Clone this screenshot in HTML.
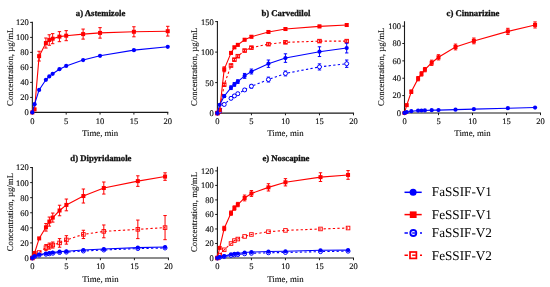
<!DOCTYPE html>
<html><head><meta charset="utf-8"><style>
html,body{margin:0;padding:0;background:#fff;}
svg{display:block;will-change:transform;}
text{text-rendering:geometricPrecision;}
.t{font-family:"Liberation Serif", serif;font-size:8.5px;fill:#111;stroke:#111;stroke-width:0.15px;}
.at{font-family:"Liberation Serif", serif;font-size:8.8px;fill:#111;stroke:#111;stroke-width:0.12px;}
.tb{font-family:"Liberation Serif", serif;font-size:8.7px;font-weight:bold;fill:#111;stroke:#111;stroke-width:0.3px;}
.lg{font-family:"Liberation Serif", serif;font-size:13.2px;fill:#000;}
</style></head><body>
<svg width="550" height="287" viewBox="0 0 550 287">
<rect width="550" height="287" fill="#fff"/>
<path d="M32.35 22.4V112.4H167.75" fill="none" stroke="#1a1a1a" stroke-width="1.1" stroke-linecap="square"/>
<path d="M30.15 112.4H32.35" stroke="#1a1a1a" stroke-width="1"/>
<text x="28.75" y="115.3" text-anchor="end" class="t">0</text>
<path d="M30.15 97.4H32.35" stroke="#1a1a1a" stroke-width="1"/>
<text x="28.75" y="100.3" text-anchor="end" class="t">20</text>
<path d="M30.15 82.4H32.35" stroke="#1a1a1a" stroke-width="1"/>
<text x="28.75" y="85.3" text-anchor="end" class="t">40</text>
<path d="M30.15 67.4H32.35" stroke="#1a1a1a" stroke-width="1"/>
<text x="28.75" y="70.3" text-anchor="end" class="t">60</text>
<path d="M30.15 52.4H32.35" stroke="#1a1a1a" stroke-width="1"/>
<text x="28.75" y="55.3" text-anchor="end" class="t">80</text>
<path d="M30.15 37.4H32.35" stroke="#1a1a1a" stroke-width="1"/>
<text x="28.75" y="40.3" text-anchor="end" class="t">100</text>
<path d="M30.15 22.4H32.35" stroke="#1a1a1a" stroke-width="1"/>
<text x="28.75" y="25.3" text-anchor="end" class="t">120</text>
<path d="M32.35 112.4V114.6" stroke="#1a1a1a" stroke-width="1"/>
<text x="32.35" y="124.2" text-anchor="middle" class="t">0</text>
<path d="M66.2 112.4V114.6" stroke="#1a1a1a" stroke-width="1"/>
<text x="66.2" y="124.2" text-anchor="middle" class="t">5</text>
<path d="M100.05 112.4V114.6" stroke="#1a1a1a" stroke-width="1"/>
<text x="100.05" y="124.2" text-anchor="middle" class="t">10</text>
<path d="M133.9 112.4V114.6" stroke="#1a1a1a" stroke-width="1"/>
<text x="133.9" y="124.2" text-anchor="middle" class="t">15</text>
<path d="M167.75 112.4V114.6" stroke="#1a1a1a" stroke-width="1"/>
<text x="167.75" y="124.2" text-anchor="middle" class="t">20</text>
<text x="100.05" y="136.3" text-anchor="middle" class="at">Time, min</text>
<text transform="translate(12.9 66.8) rotate(-90)" text-anchor="middle" class="at">Concentration, µg/mL</text>
<text x="100.55" y="15.7" text-anchor="middle" class="tb">a) Astemizole</text>
<path d="M32.35 112.4 L34.58 109.4 L39.12 56.15 L45.89 43.03 L49.27 40.03 L52.66 38.68 L59.43 36.65 L66.2 35.68 L83.12 34.1 L100.05 32.9 L133.9 31.78 L167.75 31.18" fill="none" stroke="#ff0000" stroke-width="1.1"/>
<rect x="30.35" y="110.4" width="4" height="4" fill="#ff0000"/>
<rect x="32.58" y="107.4" width="4" height="4" fill="#ff0000"/>
<path d="M39.12 51.28V61.03M37.42 51.28H40.82M37.42 61.03H40.82" stroke="#ff0000" stroke-width="1"/>
<rect x="37.12" y="54.15" width="4" height="4" fill="#ff0000"/>
<path d="M45.89 38V48.05M44.19 38H47.59M44.19 48.05H47.59" stroke="#ff0000" stroke-width="1"/>
<rect x="43.89" y="41.03" width="4" height="4" fill="#ff0000"/>
<path d="M49.27 34.78V45.28M47.57 34.78H50.98M47.57 45.28H50.98" stroke="#ff0000" stroke-width="1"/>
<rect x="47.27" y="38.03" width="4" height="4" fill="#ff0000"/>
<path d="M52.66 33.65V43.7M50.96 33.65H54.36M50.96 43.7H54.36" stroke="#ff0000" stroke-width="1"/>
<rect x="50.66" y="36.68" width="4" height="4" fill="#ff0000"/>
<path d="M59.43 31.63V41.68M57.73 31.63H61.13M57.73 41.68H61.13" stroke="#ff0000" stroke-width="1"/>
<rect x="57.43" y="34.65" width="4" height="4" fill="#ff0000"/>
<path d="M66.2 30.65V40.7M64.5 30.65H67.9M64.5 40.7H67.9" stroke="#ff0000" stroke-width="1"/>
<rect x="64.2" y="33.68" width="4" height="4" fill="#ff0000"/>
<path d="M83.12 29.07V39.12M81.42 29.07H84.83M81.42 39.12H84.83" stroke="#ff0000" stroke-width="1"/>
<rect x="81.12" y="32.1" width="4" height="4" fill="#ff0000"/>
<path d="M100.05 27.65V38.15M98.35 27.65H101.75M98.35 38.15H101.75" stroke="#ff0000" stroke-width="1"/>
<rect x="98.05" y="30.9" width="4" height="4" fill="#ff0000"/>
<path d="M133.9 26.75V36.8M132.2 26.75H135.6M132.2 36.8H135.6" stroke="#ff0000" stroke-width="1"/>
<rect x="131.9" y="29.78" width="4" height="4" fill="#ff0000"/>
<path d="M167.75 26.3V36.05M166.05 26.3H169.45M166.05 36.05H169.45" stroke="#ff0000" stroke-width="1"/>
<rect x="165.75" y="29.18" width="4" height="4" fill="#ff0000"/>
<path d="M32.35 112.4 L34.58 104.15 L39.12 89.9 L45.89 79.78 L49.27 76.4 L52.66 73.78 L59.43 69.2 L66.2 65.9 L83.12 60.05 L100.05 55.78 L133.9 50.15 L167.75 46.78" fill="none" stroke="#0000ff" stroke-width="1.1"/>
<circle cx="32.35" cy="112.4" r="2.1" fill="#0000ff"/>
<circle cx="34.58" cy="104.15" r="2.1" fill="#0000ff"/>
<circle cx="39.12" cy="89.9" r="2.1" fill="#0000ff"/>
<circle cx="45.89" cy="79.78" r="2.1" fill="#0000ff"/>
<circle cx="49.27" cy="76.4" r="2.1" fill="#0000ff"/>
<circle cx="52.66" cy="73.78" r="2.1" fill="#0000ff"/>
<circle cx="59.43" cy="69.2" r="2.1" fill="#0000ff"/>
<circle cx="66.2" cy="65.9" r="2.1" fill="#0000ff"/>
<circle cx="83.12" cy="60.05" r="2.1" fill="#0000ff"/>
<circle cx="100.05" cy="55.78" r="2.1" fill="#0000ff"/>
<circle cx="133.9" cy="50.15" r="2.1" fill="#0000ff"/>
<circle cx="167.75" cy="46.78" r="2.1" fill="#0000ff"/>
<path d="M217.4 21.6V113.1H353.5" fill="none" stroke="#1a1a1a" stroke-width="1.1" stroke-linecap="square"/>
<path d="M215.2 113.1H217.4" stroke="#1a1a1a" stroke-width="1"/>
<text x="213.8" y="116" text-anchor="end" class="t">0</text>
<path d="M215.2 82.6H217.4" stroke="#1a1a1a" stroke-width="1"/>
<text x="213.8" y="85.5" text-anchor="end" class="t">50</text>
<path d="M215.2 52.1H217.4" stroke="#1a1a1a" stroke-width="1"/>
<text x="213.8" y="55" text-anchor="end" class="t">100</text>
<path d="M215.2 21.6H217.4" stroke="#1a1a1a" stroke-width="1"/>
<text x="213.8" y="24.5" text-anchor="end" class="t">150</text>
<path d="M217.4 113.1V115.3" stroke="#1a1a1a" stroke-width="1"/>
<text x="217.4" y="124.3" text-anchor="middle" class="t">0</text>
<path d="M251.43 113.1V115.3" stroke="#1a1a1a" stroke-width="1"/>
<text x="251.43" y="124.3" text-anchor="middle" class="t">5</text>
<path d="M285.45 113.1V115.3" stroke="#1a1a1a" stroke-width="1"/>
<text x="285.45" y="124.3" text-anchor="middle" class="t">10</text>
<path d="M319.48 113.1V115.3" stroke="#1a1a1a" stroke-width="1"/>
<text x="319.48" y="124.3" text-anchor="middle" class="t">15</text>
<path d="M353.5 113.1V115.3" stroke="#1a1a1a" stroke-width="1"/>
<text x="353.5" y="124.3" text-anchor="middle" class="t">20</text>
<text x="285.45" y="136.3" text-anchor="middle" class="at">Time, min</text>
<text transform="translate(196.9 66.75) rotate(-90)" text-anchor="middle" class="at">Concentration, µg/mL</text>
<text x="285.95" y="15.7" text-anchor="middle" class="tb">b) Carvedilol</text>
<path d="M217.4 113.1 L219.65 111.27 L224.21 84.67 L231.01 65.52 L234.41 59.66 L237.81 56.19 L244.62 50.57 L251.43 47.65 L268.44 44.17 L285.45 42.34 L319.48 41.12 L346.69 41.12" fill="none" stroke="#ff0000" stroke-width="1.1" stroke-dasharray="2.3 2.3"/>
<rect x="215.6" y="111.3" width="3.6" height="3.6" fill="none" stroke="#ff0000" stroke-width="0.9"/>
<rect x="217.85" y="109.47" width="3.6" height="3.6" fill="none" stroke="#ff0000" stroke-width="0.9"/>
<path d="M224.21 83.45V85.89M222.51 83.45H225.91M222.51 85.89H225.91" stroke="#ff0000" stroke-width="1"/>
<rect x="222.41" y="82.87" width="3.6" height="3.6" fill="none" stroke="#ff0000" stroke-width="0.9"/>
<path d="M231.01 64.3V66.74M229.31 64.3H232.71M229.31 66.74H232.71" stroke="#ff0000" stroke-width="1"/>
<rect x="229.21" y="63.72" width="3.6" height="3.6" fill="none" stroke="#ff0000" stroke-width="0.9"/>
<path d="M234.41 58.44V60.88M232.71 58.44H236.11M232.71 60.88H236.11" stroke="#ff0000" stroke-width="1"/>
<rect x="232.61" y="57.86" width="3.6" height="3.6" fill="none" stroke="#ff0000" stroke-width="0.9"/>
<path d="M237.81 54.97V57.41M236.12 54.97H239.51M236.12 57.41H239.51" stroke="#ff0000" stroke-width="1"/>
<rect x="236.01" y="54.39" width="3.6" height="3.6" fill="none" stroke="#ff0000" stroke-width="0.9"/>
<path d="M244.62 49.35V51.79M242.92 49.35H246.32M242.92 51.79H246.32" stroke="#ff0000" stroke-width="1"/>
<rect x="242.82" y="48.77" width="3.6" height="3.6" fill="none" stroke="#ff0000" stroke-width="0.9"/>
<path d="M251.43 46.43V48.87M249.73 46.43H253.12M249.73 48.87H253.12" stroke="#ff0000" stroke-width="1"/>
<rect x="249.62" y="45.85" width="3.6" height="3.6" fill="none" stroke="#ff0000" stroke-width="0.9"/>
<path d="M268.44 42.95V45.39M266.74 42.95H270.14M266.74 45.39H270.14" stroke="#ff0000" stroke-width="1"/>
<rect x="266.64" y="42.37" width="3.6" height="3.6" fill="none" stroke="#ff0000" stroke-width="0.9"/>
<path d="M285.45 41.12V43.56M283.75 41.12H287.15M283.75 43.56H287.15" stroke="#ff0000" stroke-width="1"/>
<rect x="283.65" y="40.54" width="3.6" height="3.6" fill="none" stroke="#ff0000" stroke-width="0.9"/>
<path d="M319.48 39.9V42.34M317.78 39.9H321.18M317.78 42.34H321.18" stroke="#ff0000" stroke-width="1"/>
<rect x="317.68" y="39.32" width="3.6" height="3.6" fill="none" stroke="#ff0000" stroke-width="0.9"/>
<path d="M346.69 39.9V42.34M345 39.9H348.39M345 42.34H348.39" stroke="#ff0000" stroke-width="1"/>
<rect x="344.89" y="39.32" width="3.6" height="3.6" fill="none" stroke="#ff0000" stroke-width="0.9"/>
<path d="M217.4 113.1 L219.65 111.27 L224.21 104.44 L231.01 98.34 L234.41 95.9 L237.81 93.7 L244.62 89.92 L251.43 86.26 L268.44 79.55 L285.45 73.45 L319.48 66.92 L346.69 63.69" fill="none" stroke="#0000ff" stroke-width="1.1" stroke-dasharray="2.3 2.3"/>
<circle cx="217.4" cy="113.1" r="2.0" fill="#fff" stroke="#0000ff" stroke-width="1"/>
<circle cx="219.65" cy="111.27" r="2.0" fill="#fff" stroke="#0000ff" stroke-width="1"/>
<path d="M224.21 103.22V105.66M222.51 103.22H225.91M222.51 105.66H225.91" stroke="#0000ff" stroke-width="1"/>
<circle cx="224.21" cy="104.44" r="2.0" fill="#fff" stroke="#0000ff" stroke-width="1"/>
<path d="M231.01 97.12V99.56M229.31 97.12H232.71M229.31 99.56H232.71" stroke="#0000ff" stroke-width="1"/>
<circle cx="231.01" cy="98.34" r="2.0" fill="#fff" stroke="#0000ff" stroke-width="1"/>
<path d="M234.41 94.68V97.12M232.71 94.68H236.11M232.71 97.12H236.11" stroke="#0000ff" stroke-width="1"/>
<circle cx="234.41" cy="95.9" r="2.0" fill="#fff" stroke="#0000ff" stroke-width="1"/>
<path d="M237.81 92.48V94.92M236.12 92.48H239.51M236.12 94.92H239.51" stroke="#0000ff" stroke-width="1"/>
<circle cx="237.81" cy="93.7" r="2.0" fill="#fff" stroke="#0000ff" stroke-width="1"/>
<path d="M244.62 88.7V91.14M242.92 88.7H246.32M242.92 91.14H246.32" stroke="#0000ff" stroke-width="1"/>
<circle cx="244.62" cy="89.92" r="2.0" fill="#fff" stroke="#0000ff" stroke-width="1"/>
<path d="M251.43 84.43V88.09M249.73 84.43H253.12M249.73 88.09H253.12" stroke="#0000ff" stroke-width="1"/>
<circle cx="251.43" cy="86.26" r="2.0" fill="#fff" stroke="#0000ff" stroke-width="1"/>
<path d="M268.44 77.11V81.99M266.74 77.11H270.14M266.74 81.99H270.14" stroke="#0000ff" stroke-width="1"/>
<circle cx="268.44" cy="79.55" r="2.0" fill="#fff" stroke="#0000ff" stroke-width="1"/>
<path d="M285.45 71.01V75.89M283.75 71.01H287.15M283.75 75.89H287.15" stroke="#0000ff" stroke-width="1"/>
<circle cx="285.45" cy="73.45" r="2.0" fill="#fff" stroke="#0000ff" stroke-width="1"/>
<path d="M319.48 63.87V69.97M317.78 63.87H321.18M317.78 69.97H321.18" stroke="#0000ff" stroke-width="1"/>
<circle cx="319.48" cy="66.92" r="2.0" fill="#fff" stroke="#0000ff" stroke-width="1"/>
<path d="M346.69 60.03V67.35M345 60.03H348.39M345 67.35H348.39" stroke="#0000ff" stroke-width="1"/>
<circle cx="346.69" cy="63.69" r="2.0" fill="#fff" stroke="#0000ff" stroke-width="1"/>
<path d="M217.4 113.1 L219.65 110.05 L224.21 69.3 L231.01 52.89 L234.41 47.34 L237.81 44.84 L244.62 39.72 L251.43 36.73 L268.44 31.97 L285.45 29.04 L319.48 26.42 L346.69 25.02" fill="none" stroke="#ff0000" stroke-width="1.1"/>
<rect x="215.4" y="111.1" width="4" height="4" fill="#ff0000"/>
<rect x="217.65" y="108.05" width="4" height="4" fill="#ff0000"/>
<path d="M224.21 66.86V71.74M222.51 66.86H225.91M222.51 71.74H225.91" stroke="#ff0000" stroke-width="1"/>
<rect x="222.21" y="67.3" width="4" height="4" fill="#ff0000"/>
<path d="M231.01 51.67V54.11M229.31 51.67H232.71M229.31 54.11H232.71" stroke="#ff0000" stroke-width="1"/>
<rect x="229.01" y="50.89" width="4" height="4" fill="#ff0000"/>
<path d="M234.41 46.12V48.56M232.71 46.12H236.11M232.71 48.56H236.11" stroke="#ff0000" stroke-width="1"/>
<rect x="232.41" y="45.34" width="4" height="4" fill="#ff0000"/>
<path d="M237.81 43.62V46.06M236.12 43.62H239.51M236.12 46.06H239.51" stroke="#ff0000" stroke-width="1"/>
<rect x="235.81" y="42.84" width="4" height="4" fill="#ff0000"/>
<path d="M244.62 38.5V40.94M242.92 38.5H246.32M242.92 40.94H246.32" stroke="#ff0000" stroke-width="1"/>
<rect x="242.62" y="37.72" width="4" height="4" fill="#ff0000"/>
<path d="M251.43 35.51V37.95M249.73 35.51H253.12M249.73 37.95H253.12" stroke="#ff0000" stroke-width="1"/>
<rect x="249.43" y="34.73" width="4" height="4" fill="#ff0000"/>
<path d="M268.44 30.75V33.19M266.74 30.75H270.14M266.74 33.19H270.14" stroke="#ff0000" stroke-width="1"/>
<rect x="266.44" y="29.97" width="4" height="4" fill="#ff0000"/>
<path d="M285.45 27.82V30.26M283.75 27.82H287.15M283.75 30.26H287.15" stroke="#ff0000" stroke-width="1"/>
<rect x="283.45" y="27.04" width="4" height="4" fill="#ff0000"/>
<path d="M319.48 25.2V27.64M317.78 25.2H321.18M317.78 27.64H321.18" stroke="#ff0000" stroke-width="1"/>
<rect x="317.48" y="24.42" width="4" height="4" fill="#ff0000"/>
<path d="M346.69 23.8V26.24M345 23.8H348.39M345 26.24H348.39" stroke="#ff0000" stroke-width="1"/>
<rect x="344.69" y="23.02" width="4" height="4" fill="#ff0000"/>
<path d="M217.4 113.1 L219.65 104.8 L224.21 96.2 L231.01 87.72 L234.41 84.43 L237.81 81.62 L244.62 75.89 L251.43 71.5 L268.44 63.69 L285.45 58.08 L319.48 51.67 L346.69 48.07" fill="none" stroke="#0000ff" stroke-width="1.1"/>
<circle cx="217.4" cy="113.1" r="2.1" fill="#0000ff"/>
<circle cx="219.65" cy="104.8" r="2.1" fill="#0000ff"/>
<path d="M224.21 94.98V97.42M222.51 94.98H225.91M222.51 97.42H225.91" stroke="#0000ff" stroke-width="1"/>
<circle cx="224.21" cy="96.2" r="2.1" fill="#0000ff"/>
<path d="M231.01 85.89V89.55M229.31 85.89H232.71M229.31 89.55H232.71" stroke="#0000ff" stroke-width="1"/>
<circle cx="231.01" cy="87.72" r="2.1" fill="#0000ff"/>
<path d="M234.41 82.6V86.26M232.71 82.6H236.11M232.71 86.26H236.11" stroke="#0000ff" stroke-width="1"/>
<circle cx="234.41" cy="84.43" r="2.1" fill="#0000ff"/>
<path d="M237.81 79.79V83.45M236.12 79.79H239.51M236.12 83.45H239.51" stroke="#0000ff" stroke-width="1"/>
<circle cx="237.81" cy="81.62" r="2.1" fill="#0000ff"/>
<path d="M244.62 73.45V78.33M242.92 73.45H246.32M242.92 78.33H246.32" stroke="#0000ff" stroke-width="1"/>
<circle cx="244.62" cy="75.89" r="2.1" fill="#0000ff"/>
<path d="M251.43 69.06V73.94M249.73 69.06H253.12M249.73 73.94H253.12" stroke="#0000ff" stroke-width="1"/>
<circle cx="251.43" cy="71.5" r="2.1" fill="#0000ff"/>
<path d="M268.44 60.03V67.35M266.74 60.03H270.14M266.74 67.35H270.14" stroke="#0000ff" stroke-width="1"/>
<circle cx="268.44" cy="63.69" r="2.1" fill="#0000ff"/>
<path d="M285.45 53.81V62.35M283.75 53.81H287.15M283.75 62.35H287.15" stroke="#0000ff" stroke-width="1"/>
<circle cx="285.45" cy="58.08" r="2.1" fill="#0000ff"/>
<path d="M319.48 46.79V56.55M317.78 46.79H321.18M317.78 56.55H321.18" stroke="#0000ff" stroke-width="1"/>
<circle cx="319.48" cy="51.67" r="2.1" fill="#0000ff"/>
<path d="M346.69 43.19V52.95M345 43.19H348.39M345 52.95H348.39" stroke="#0000ff" stroke-width="1"/>
<circle cx="346.69" cy="48.07" r="2.1" fill="#0000ff"/>
<path d="M404.5 21.81V112.95H540.5" fill="none" stroke="#1a1a1a" stroke-width="1.1" stroke-linecap="square"/>
<path d="M402.3 112.95H404.5" stroke="#1a1a1a" stroke-width="1"/>
<text x="400.9" y="115.85" text-anchor="end" class="t">0</text>
<path d="M402.3 95.59H404.5" stroke="#1a1a1a" stroke-width="1"/>
<text x="400.9" y="98.49" text-anchor="end" class="t">20</text>
<path d="M402.3 78.23H404.5" stroke="#1a1a1a" stroke-width="1"/>
<text x="400.9" y="81.13" text-anchor="end" class="t">40</text>
<path d="M402.3 60.87H404.5" stroke="#1a1a1a" stroke-width="1"/>
<text x="400.9" y="63.77" text-anchor="end" class="t">60</text>
<path d="M402.3 43.51H404.5" stroke="#1a1a1a" stroke-width="1"/>
<text x="400.9" y="46.41" text-anchor="end" class="t">80</text>
<path d="M402.3 26.15H404.5" stroke="#1a1a1a" stroke-width="1"/>
<text x="400.9" y="29.05" text-anchor="end" class="t">100</text>
<path d="M404.5 112.95V115.15" stroke="#1a1a1a" stroke-width="1"/>
<text x="404.5" y="124.3" text-anchor="middle" class="t">0</text>
<path d="M438.5 112.95V115.15" stroke="#1a1a1a" stroke-width="1"/>
<text x="438.5" y="124.3" text-anchor="middle" class="t">5</text>
<path d="M472.5 112.95V115.15" stroke="#1a1a1a" stroke-width="1"/>
<text x="472.5" y="124.3" text-anchor="middle" class="t">10</text>
<path d="M506.5 112.95V115.15" stroke="#1a1a1a" stroke-width="1"/>
<text x="506.5" y="124.3" text-anchor="middle" class="t">15</text>
<path d="M540.5 112.95V115.15" stroke="#1a1a1a" stroke-width="1"/>
<text x="540.5" y="124.3" text-anchor="middle" class="t">20</text>
<text x="472.5" y="136.3" text-anchor="middle" class="at">Time, min</text>
<text transform="translate(383.8 66.78) rotate(-90)" text-anchor="middle" class="at">Concentration, µg/mL</text>
<text x="473" y="15.7" text-anchor="middle" class="tb">c) Cinnarizine</text>
<path d="M404.5 112.95 L406.74 105.14 L411.3 91.77 L418.1 78.66 L421.5 73.89 L424.9 69.64 L431.7 62.78 L438.5 57.31 L455.5 46.98 L473.86 40.91 L507.86 31.36 L535.06 24.93" fill="none" stroke="#ff0000" stroke-width="1.1"/>
<rect x="402.5" y="110.95" width="4" height="4" fill="#ff0000"/>
<rect x="404.74" y="103.14" width="4" height="4" fill="#ff0000"/>
<path d="M411.3 90.03V93.51M409.6 90.03H413M409.6 93.51H413" stroke="#ff0000" stroke-width="1"/>
<rect x="409.3" y="89.77" width="4" height="4" fill="#ff0000"/>
<path d="M418.1 76.49V80.83M416.4 76.49H419.8M416.4 80.83H419.8" stroke="#ff0000" stroke-width="1"/>
<rect x="416.1" y="76.66" width="4" height="4" fill="#ff0000"/>
<path d="M421.5 71.72V76.06M419.8 71.72H423.2M419.8 76.06H423.2" stroke="#ff0000" stroke-width="1"/>
<rect x="419.5" y="71.89" width="4" height="4" fill="#ff0000"/>
<path d="M424.9 67.47V71.81M423.2 67.47H426.6M423.2 71.81H426.6" stroke="#ff0000" stroke-width="1"/>
<rect x="422.9" y="67.64" width="4" height="4" fill="#ff0000"/>
<path d="M431.7 60.18V65.38M430 60.18H433.4M430 65.38H433.4" stroke="#ff0000" stroke-width="1"/>
<rect x="429.7" y="60.78" width="4" height="4" fill="#ff0000"/>
<path d="M438.5 54.71V59.92M436.8 54.71H440.2M436.8 59.92H440.2" stroke="#ff0000" stroke-width="1"/>
<rect x="436.5" y="55.31" width="4" height="4" fill="#ff0000"/>
<path d="M455.5 44.12V49.85M453.8 44.12H457.2M453.8 49.85H457.2" stroke="#ff0000" stroke-width="1"/>
<rect x="453.5" y="44.98" width="4" height="4" fill="#ff0000"/>
<path d="M473.86 38.04V43.77M472.16 38.04H475.56M472.16 43.77H475.56" stroke="#ff0000" stroke-width="1"/>
<rect x="471.86" y="38.91" width="4" height="4" fill="#ff0000"/>
<path d="M507.86 28.32V34.4M506.16 28.32H509.56M506.16 34.4H509.56" stroke="#ff0000" stroke-width="1"/>
<rect x="505.86" y="29.36" width="4" height="4" fill="#ff0000"/>
<path d="M535.06 21.9V27.97M533.36 21.9H536.76M533.36 27.97H536.76" stroke="#ff0000" stroke-width="1"/>
<rect x="533.06" y="22.93" width="4" height="4" fill="#ff0000"/>
<path d="M404.5 112.95 L406.74 112.08 L411.3 111.21 L418.1 110.61 L421.5 110.52 L424.9 110.43 L431.7 110.17 L438.5 110.09 L455.5 109.65 L473.86 109.13 L507.86 108.18 L535.06 107.57" fill="none" stroke="#0000ff" stroke-width="1.1"/>
<circle cx="404.5" cy="112.95" r="2.1" fill="#0000ff"/>
<circle cx="406.74" cy="112.08" r="2.1" fill="#0000ff"/>
<circle cx="411.3" cy="111.21" r="2.1" fill="#0000ff"/>
<circle cx="418.1" cy="110.61" r="2.1" fill="#0000ff"/>
<circle cx="421.5" cy="110.52" r="2.1" fill="#0000ff"/>
<circle cx="424.9" cy="110.43" r="2.1" fill="#0000ff"/>
<circle cx="431.7" cy="110.17" r="2.1" fill="#0000ff"/>
<circle cx="438.5" cy="110.09" r="2.1" fill="#0000ff"/>
<circle cx="455.5" cy="109.65" r="2.1" fill="#0000ff"/>
<circle cx="473.86" cy="109.13" r="2.1" fill="#0000ff"/>
<circle cx="507.86" cy="108.18" r="2.1" fill="#0000ff"/>
<circle cx="535.06" cy="107.57" r="2.1" fill="#0000ff"/>
<path d="M32.35 167.52V258H168.45" fill="none" stroke="#1a1a1a" stroke-width="1.1" stroke-linecap="square"/>
<path d="M30.15 258H32.35" stroke="#1a1a1a" stroke-width="1"/>
<text x="28.75" y="260.9" text-anchor="end" class="t">0</text>
<path d="M30.15 242.92H32.35" stroke="#1a1a1a" stroke-width="1"/>
<text x="28.75" y="245.82" text-anchor="end" class="t">20</text>
<path d="M30.15 227.84H32.35" stroke="#1a1a1a" stroke-width="1"/>
<text x="28.75" y="230.74" text-anchor="end" class="t">40</text>
<path d="M30.15 212.76H32.35" stroke="#1a1a1a" stroke-width="1"/>
<text x="28.75" y="215.66" text-anchor="end" class="t">60</text>
<path d="M30.15 197.68H32.35" stroke="#1a1a1a" stroke-width="1"/>
<text x="28.75" y="200.58" text-anchor="end" class="t">80</text>
<path d="M30.15 182.6H32.35" stroke="#1a1a1a" stroke-width="1"/>
<text x="28.75" y="185.5" text-anchor="end" class="t">100</text>
<path d="M30.15 167.52H32.35" stroke="#1a1a1a" stroke-width="1"/>
<text x="28.75" y="170.42" text-anchor="end" class="t">120</text>
<path d="M32.35 258V260.2" stroke="#1a1a1a" stroke-width="1"/>
<text x="32.35" y="269.4" text-anchor="middle" class="t">0</text>
<path d="M66.38 258V260.2" stroke="#1a1a1a" stroke-width="1"/>
<text x="66.38" y="269.4" text-anchor="middle" class="t">5</text>
<path d="M100.4 258V260.2" stroke="#1a1a1a" stroke-width="1"/>
<text x="100.4" y="269.4" text-anchor="middle" class="t">10</text>
<path d="M134.42 258V260.2" stroke="#1a1a1a" stroke-width="1"/>
<text x="134.42" y="269.4" text-anchor="middle" class="t">15</text>
<path d="M168.45 258V260.2" stroke="#1a1a1a" stroke-width="1"/>
<text x="168.45" y="269.4" text-anchor="middle" class="t">20</text>
<text x="100.4" y="281.5" text-anchor="middle" class="at">Time, min</text>
<text transform="translate(12.9 212.16) rotate(-90)" text-anchor="middle" class="at">Concentration, µg/mL</text>
<text x="100.9" y="160.7" text-anchor="middle" class="tb">d) Dipyridamole</text>
<path d="M32.35 258 L34.6 255.74 L39.16 252.5 L45.96 247.59 L49.36 246.09 L52.77 245.03 L59.57 242.92 L66.38 239.9 L83.39 234.4 L103.8 231.38 L137.83 229.35 L165.05 227.61" fill="none" stroke="#ff0000" stroke-width="1.1" stroke-dasharray="2.3 2.3"/>
<rect x="30.55" y="256.2" width="3.6" height="3.6" fill="none" stroke="#ff0000" stroke-width="0.9"/>
<rect x="32.8" y="253.94" width="3.6" height="3.6" fill="none" stroke="#ff0000" stroke-width="0.9"/>
<rect x="37.36" y="250.7" width="3.6" height="3.6" fill="none" stroke="#ff0000" stroke-width="0.9"/>
<path d="M45.96 244.58V250.61M44.26 244.58H47.66M44.26 250.61H47.66" stroke="#ff0000" stroke-width="1"/>
<rect x="44.16" y="245.79" width="3.6" height="3.6" fill="none" stroke="#ff0000" stroke-width="0.9"/>
<path d="M49.36 243.07V249.1M47.66 243.07H51.06M47.66 249.1H51.06" stroke="#ff0000" stroke-width="1"/>
<rect x="47.56" y="244.29" width="3.6" height="3.6" fill="none" stroke="#ff0000" stroke-width="0.9"/>
<path d="M52.77 242.02V248.05M51.06 242.02H54.47M51.06 248.05H54.47" stroke="#ff0000" stroke-width="1"/>
<rect x="50.97" y="243.23" width="3.6" height="3.6" fill="none" stroke="#ff0000" stroke-width="0.9"/>
<path d="M59.57 238.62V247.22M57.87 238.62H61.27M57.87 247.22H61.27" stroke="#ff0000" stroke-width="1"/>
<rect x="57.77" y="241.12" width="3.6" height="3.6" fill="none" stroke="#ff0000" stroke-width="0.9"/>
<path d="M66.38 235.68V244.13M64.67 235.68H68.08M64.67 244.13H68.08" stroke="#ff0000" stroke-width="1"/>
<rect x="64.58" y="238.1" width="3.6" height="3.6" fill="none" stroke="#ff0000" stroke-width="0.9"/>
<path d="M83.39 230.25V238.55M81.69 230.25H85.09M81.69 238.55H85.09" stroke="#ff0000" stroke-width="1"/>
<rect x="81.59" y="232.6" width="3.6" height="3.6" fill="none" stroke="#ff0000" stroke-width="0.9"/>
<path d="M103.8 224.97V237.79M102.1 224.97H105.5M102.1 237.79H105.5" stroke="#ff0000" stroke-width="1"/>
<rect x="102" y="229.58" width="3.6" height="3.6" fill="none" stroke="#ff0000" stroke-width="0.9"/>
<path d="M137.83 220.07V238.62M136.13 220.07H139.53M136.13 238.62H139.53" stroke="#ff0000" stroke-width="1"/>
<rect x="136.03" y="227.55" width="3.6" height="3.6" fill="none" stroke="#ff0000" stroke-width="0.9"/>
<path d="M165.05 215.55V239.68M163.35 215.55H166.75M163.35 239.68H166.75" stroke="#ff0000" stroke-width="1"/>
<rect x="163.25" y="225.81" width="3.6" height="3.6" fill="none" stroke="#ff0000" stroke-width="0.9"/>
<path d="M32.35 258 L34.6 256.49 L39.16 255.13 L45.96 254.23 L49.36 253.78 L52.77 253.25 L59.57 252.5 L66.38 252.12 L83.39 250.99 L103.8 250.01 L137.83 248.57 L165.05 247.97" fill="none" stroke="#0000ff" stroke-width="1.1" stroke-dasharray="2.3 2.3"/>
<circle cx="32.35" cy="258" r="2.0" fill="#fff" stroke="#0000ff" stroke-width="1"/>
<circle cx="34.6" cy="256.49" r="2.0" fill="#fff" stroke="#0000ff" stroke-width="1"/>
<circle cx="39.16" cy="255.13" r="2.0" fill="#fff" stroke="#0000ff" stroke-width="1"/>
<circle cx="45.96" cy="254.23" r="2.0" fill="#fff" stroke="#0000ff" stroke-width="1"/>
<circle cx="49.36" cy="253.78" r="2.0" fill="#fff" stroke="#0000ff" stroke-width="1"/>
<circle cx="52.77" cy="253.25" r="2.0" fill="#fff" stroke="#0000ff" stroke-width="1"/>
<circle cx="59.57" cy="252.5" r="2.0" fill="#fff" stroke="#0000ff" stroke-width="1"/>
<circle cx="66.38" cy="252.12" r="2.0" fill="#fff" stroke="#0000ff" stroke-width="1"/>
<circle cx="83.39" cy="250.99" r="2.0" fill="#fff" stroke="#0000ff" stroke-width="1"/>
<circle cx="103.8" cy="250.01" r="2.0" fill="#fff" stroke="#0000ff" stroke-width="1"/>
<circle cx="137.83" cy="248.57" r="2.0" fill="#fff" stroke="#0000ff" stroke-width="1"/>
<circle cx="165.05" cy="247.97" r="2.0" fill="#fff" stroke="#0000ff" stroke-width="1"/>
<path d="M32.35 258 L34.6 253.02 L39.16 238.4 L45.96 227.31 L49.36 221.58 L52.77 217.59 L59.57 210.5 L66.38 204.92 L83.39 196.02 L103.8 188.03 L137.83 181.09 L165.05 176.57" fill="none" stroke="#ff0000" stroke-width="1.1"/>
<rect x="30.35" y="256" width="4" height="4" fill="#ff0000"/>
<rect x="32.6" y="251.02" width="4" height="4" fill="#ff0000"/>
<rect x="37.16" y="236.4" width="4" height="4" fill="#ff0000"/>
<path d="M45.96 223.54V231.08M44.26 223.54H47.66M44.26 231.08H47.66" stroke="#ff0000" stroke-width="1"/>
<rect x="43.96" y="225.31" width="4" height="4" fill="#ff0000"/>
<path d="M49.36 217.06V226.11M47.66 217.06H51.06M47.66 226.11H51.06" stroke="#ff0000" stroke-width="1"/>
<rect x="47.36" y="219.58" width="4" height="4" fill="#ff0000"/>
<path d="M52.77 213.06V222.11M51.06 213.06H54.47M51.06 222.11H54.47" stroke="#ff0000" stroke-width="1"/>
<rect x="50.77" y="215.59" width="4" height="4" fill="#ff0000"/>
<path d="M59.57 205.22V215.78M57.87 205.22H61.27M57.87 215.78H61.27" stroke="#ff0000" stroke-width="1"/>
<rect x="57.57" y="208.5" width="4" height="4" fill="#ff0000"/>
<path d="M66.38 199.04V210.8M64.67 199.04H68.08M64.67 210.8H68.08" stroke="#ff0000" stroke-width="1"/>
<rect x="64.38" y="202.92" width="4" height="4" fill="#ff0000"/>
<path d="M83.39 189.01V203.03M81.69 189.01H85.09M81.69 203.03H85.09" stroke="#ff0000" stroke-width="1"/>
<rect x="81.39" y="194.02" width="4" height="4" fill="#ff0000"/>
<path d="M103.8 182V194.06M102.1 182H105.5M102.1 194.06H105.5" stroke="#ff0000" stroke-width="1"/>
<rect x="101.8" y="186.03" width="4" height="4" fill="#ff0000"/>
<path d="M137.83 175.81V186.37M136.13 175.81H139.53M136.13 186.37H139.53" stroke="#ff0000" stroke-width="1"/>
<rect x="135.83" y="179.09" width="4" height="4" fill="#ff0000"/>
<path d="M165.05 172.8V180.34M163.35 172.8H166.75M163.35 180.34H166.75" stroke="#ff0000" stroke-width="1"/>
<rect x="163.05" y="174.57" width="4" height="4" fill="#ff0000"/>
<path d="M32.35 258 L34.6 256.04 L39.16 254.53 L45.96 253.48 L49.36 253.02 L52.77 252.5 L59.57 251.67 L66.38 251.29 L83.39 250.01 L103.8 249.03 L137.83 247.59 L165.05 246.99" fill="none" stroke="#0000ff" stroke-width="1.1"/>
<circle cx="32.35" cy="258" r="2.1" fill="#0000ff"/>
<circle cx="34.6" cy="256.04" r="2.1" fill="#0000ff"/>
<circle cx="39.16" cy="254.53" r="2.1" fill="#0000ff"/>
<circle cx="45.96" cy="253.48" r="2.1" fill="#0000ff"/>
<circle cx="49.36" cy="253.02" r="2.1" fill="#0000ff"/>
<circle cx="52.77" cy="252.5" r="2.1" fill="#0000ff"/>
<circle cx="59.57" cy="251.67" r="2.1" fill="#0000ff"/>
<circle cx="66.38" cy="251.29" r="2.1" fill="#0000ff"/>
<circle cx="83.39" cy="250.01" r="2.1" fill="#0000ff"/>
<circle cx="103.8" cy="249.03" r="2.1" fill="#0000ff"/>
<circle cx="137.83" cy="247.59" r="2.1" fill="#0000ff"/>
<circle cx="165.05" cy="246.99" r="2.1" fill="#0000ff"/>
<path d="M217.4 167.25V258H353.5" fill="none" stroke="#1a1a1a" stroke-width="1.1" stroke-linecap="square"/>
<path d="M215.2 258H217.4" stroke="#1a1a1a" stroke-width="1"/>
<text x="213.8" y="260.9" text-anchor="end" class="t">0</text>
<path d="M215.2 243.48H217.4" stroke="#1a1a1a" stroke-width="1"/>
<text x="213.8" y="246.38" text-anchor="end" class="t">20</text>
<path d="M215.2 228.96H217.4" stroke="#1a1a1a" stroke-width="1"/>
<text x="213.8" y="231.86" text-anchor="end" class="t">40</text>
<path d="M215.2 214.44H217.4" stroke="#1a1a1a" stroke-width="1"/>
<text x="213.8" y="217.34" text-anchor="end" class="t">60</text>
<path d="M215.2 199.92H217.4" stroke="#1a1a1a" stroke-width="1"/>
<text x="213.8" y="202.82" text-anchor="end" class="t">80</text>
<path d="M215.2 185.4H217.4" stroke="#1a1a1a" stroke-width="1"/>
<text x="213.8" y="188.3" text-anchor="end" class="t">100</text>
<path d="M215.2 170.88H217.4" stroke="#1a1a1a" stroke-width="1"/>
<text x="213.8" y="173.78" text-anchor="end" class="t">120</text>
<path d="M217.4 258V260.2" stroke="#1a1a1a" stroke-width="1"/>
<text x="217.4" y="269.4" text-anchor="middle" class="t">0</text>
<path d="M251.43 258V260.2" stroke="#1a1a1a" stroke-width="1"/>
<text x="251.43" y="269.4" text-anchor="middle" class="t">5</text>
<path d="M285.45 258V260.2" stroke="#1a1a1a" stroke-width="1"/>
<text x="285.45" y="269.4" text-anchor="middle" class="t">10</text>
<path d="M319.48 258V260.2" stroke="#1a1a1a" stroke-width="1"/>
<text x="319.48" y="269.4" text-anchor="middle" class="t">15</text>
<path d="M353.5 258V260.2" stroke="#1a1a1a" stroke-width="1"/>
<text x="353.5" y="269.4" text-anchor="middle" class="t">20</text>
<text x="285.45" y="281.5" text-anchor="middle" class="at">Time, min</text>
<text transform="translate(196.9 212.03) rotate(-90)" text-anchor="middle" class="at">Concentration, mg/mL</text>
<text x="285.95" y="160.7" text-anchor="middle" class="tb">e) Noscapine</text>
<path d="M217.4 258 L219.65 255.1 L224.21 249.8 L231.01 243.55 L234.41 240.58 L237.81 239.05 L244.62 236.44 L251.43 234.48 L268.44 231.72 L285.45 230.41 L320.5 228.96 L348.06 228.02" fill="none" stroke="#ff0000" stroke-width="1.1" stroke-dasharray="2.3 2.3"/>
<rect x="215.6" y="256.2" width="3.6" height="3.6" fill="none" stroke="#ff0000" stroke-width="0.9"/>
<rect x="217.85" y="253.3" width="3.6" height="3.6" fill="none" stroke="#ff0000" stroke-width="0.9"/>
<rect x="222.41" y="248" width="3.6" height="3.6" fill="none" stroke="#ff0000" stroke-width="0.9"/>
<rect x="229.21" y="241.75" width="3.6" height="3.6" fill="none" stroke="#ff0000" stroke-width="0.9"/>
<rect x="232.61" y="238.78" width="3.6" height="3.6" fill="none" stroke="#ff0000" stroke-width="0.9"/>
<rect x="236.01" y="237.25" width="3.6" height="3.6" fill="none" stroke="#ff0000" stroke-width="0.9"/>
<rect x="242.82" y="234.64" width="3.6" height="3.6" fill="none" stroke="#ff0000" stroke-width="0.9"/>
<rect x="249.62" y="232.68" width="3.6" height="3.6" fill="none" stroke="#ff0000" stroke-width="0.9"/>
<rect x="266.64" y="229.92" width="3.6" height="3.6" fill="none" stroke="#ff0000" stroke-width="0.9"/>
<rect x="283.65" y="228.61" width="3.6" height="3.6" fill="none" stroke="#ff0000" stroke-width="0.9"/>
<rect x="318.7" y="227.16" width="3.6" height="3.6" fill="none" stroke="#ff0000" stroke-width="0.9"/>
<rect x="346.26" y="226.22" width="3.6" height="3.6" fill="none" stroke="#ff0000" stroke-width="0.9"/>
<path d="M217.4 258 L219.65 257.42 L224.21 256.55 L231.01 255.46 L234.41 254.95 L237.81 254.59 L244.62 253.79 L251.43 253.28 L268.44 252.77 L285.45 252.48 L320.5 251.61 L348.06 251.18" fill="none" stroke="#0000ff" stroke-width="1.1" stroke-dasharray="2.3 2.3"/>
<circle cx="217.4" cy="258" r="2.0" fill="#fff" stroke="#0000ff" stroke-width="1"/>
<circle cx="219.65" cy="257.42" r="2.0" fill="#fff" stroke="#0000ff" stroke-width="1"/>
<circle cx="224.21" cy="256.55" r="2.0" fill="#fff" stroke="#0000ff" stroke-width="1"/>
<circle cx="231.01" cy="255.46" r="2.0" fill="#fff" stroke="#0000ff" stroke-width="1"/>
<circle cx="234.41" cy="254.95" r="2.0" fill="#fff" stroke="#0000ff" stroke-width="1"/>
<circle cx="237.81" cy="254.59" r="2.0" fill="#fff" stroke="#0000ff" stroke-width="1"/>
<circle cx="244.62" cy="253.79" r="2.0" fill="#fff" stroke="#0000ff" stroke-width="1"/>
<circle cx="251.43" cy="253.28" r="2.0" fill="#fff" stroke="#0000ff" stroke-width="1"/>
<circle cx="268.44" cy="252.77" r="2.0" fill="#fff" stroke="#0000ff" stroke-width="1"/>
<circle cx="285.45" cy="252.48" r="2.0" fill="#fff" stroke="#0000ff" stroke-width="1"/>
<circle cx="320.5" cy="251.61" r="2.0" fill="#fff" stroke="#0000ff" stroke-width="1"/>
<circle cx="348.06" cy="251.18" r="2.0" fill="#fff" stroke="#0000ff" stroke-width="1"/>
<path d="M217.4 258 L219.65 247.91 L224.21 228.45 L231.01 213.13 L234.41 208.05 L237.81 204.57 L244.62 197.96 L251.43 193.46 L268.44 187.36 L285.45 182.28 L320.5 177.12 L348.06 174.95" fill="none" stroke="#ff0000" stroke-width="1.1"/>
<rect x="215.4" y="256" width="4" height="4" fill="#ff0000"/>
<rect x="217.65" y="245.91" width="4" height="4" fill="#ff0000"/>
<path d="M224.21 226.27V230.63M222.51 226.27H225.91M222.51 230.63H225.91" stroke="#ff0000" stroke-width="1"/>
<rect x="222.21" y="226.45" width="4" height="4" fill="#ff0000"/>
<path d="M231.01 210.96V215.31M229.31 210.96H232.71M229.31 215.31H232.71" stroke="#ff0000" stroke-width="1"/>
<rect x="229.01" y="211.13" width="4" height="4" fill="#ff0000"/>
<path d="M234.41 205.87V210.23M232.71 205.87H236.11M232.71 210.23H236.11" stroke="#ff0000" stroke-width="1"/>
<rect x="232.41" y="206.05" width="4" height="4" fill="#ff0000"/>
<path d="M237.81 202.39V206.74M236.12 202.39H239.51M236.12 206.74H239.51" stroke="#ff0000" stroke-width="1"/>
<rect x="235.81" y="202.57" width="4" height="4" fill="#ff0000"/>
<path d="M244.62 195.06V200.86M242.92 195.06H246.32M242.92 200.86H246.32" stroke="#ff0000" stroke-width="1"/>
<rect x="242.62" y="195.96" width="4" height="4" fill="#ff0000"/>
<path d="M251.43 190.55V196.36M249.73 190.55H253.12M249.73 196.36H253.12" stroke="#ff0000" stroke-width="1"/>
<rect x="249.43" y="191.46" width="4" height="4" fill="#ff0000"/>
<path d="M268.44 183.73V190.99M266.74 183.73H270.14M266.74 190.99H270.14" stroke="#ff0000" stroke-width="1"/>
<rect x="266.44" y="185.36" width="4" height="4" fill="#ff0000"/>
<path d="M285.45 178.65V185.91M283.75 178.65H287.15M283.75 185.91H287.15" stroke="#ff0000" stroke-width="1"/>
<rect x="283.45" y="180.28" width="4" height="4" fill="#ff0000"/>
<path d="M320.5 172.77V181.48M318.8 172.77H322.2M318.8 181.48H322.2" stroke="#ff0000" stroke-width="1"/>
<rect x="318.5" y="175.12" width="4" height="4" fill="#ff0000"/>
<path d="M348.06 170.59V179.3M346.36 170.59H349.76M346.36 179.3H349.76" stroke="#ff0000" stroke-width="1"/>
<rect x="346.06" y="172.95" width="4" height="4" fill="#ff0000"/>
<path d="M217.4 258 L219.65 256.98 L224.21 256.04 L231.01 254.37 L234.41 253.79 L237.81 253.5 L244.62 252.48 L251.43 252.05 L268.44 251.54 L285.45 251.25 L320.5 250.23 L348.06 250.09" fill="none" stroke="#0000ff" stroke-width="1.1"/>
<circle cx="217.4" cy="258" r="2.1" fill="#0000ff"/>
<circle cx="219.65" cy="256.98" r="2.1" fill="#0000ff"/>
<circle cx="224.21" cy="256.04" r="2.1" fill="#0000ff"/>
<circle cx="231.01" cy="254.37" r="2.1" fill="#0000ff"/>
<circle cx="234.41" cy="253.79" r="2.1" fill="#0000ff"/>
<circle cx="237.81" cy="253.5" r="2.1" fill="#0000ff"/>
<circle cx="244.62" cy="252.48" r="2.1" fill="#0000ff"/>
<circle cx="251.43" cy="252.05" r="2.1" fill="#0000ff"/>
<circle cx="268.44" cy="251.54" r="2.1" fill="#0000ff"/>
<circle cx="285.45" cy="251.25" r="2.1" fill="#0000ff"/>
<circle cx="320.5" cy="250.23" r="2.1" fill="#0000ff"/>
<circle cx="348.06" cy="250.09" r="2.1" fill="#0000ff"/>
<path d="M404.5 192.3H421.7" stroke="#0000ff" stroke-width="1.5"/>
<circle cx="413.1" cy="192.3" r="3.5" fill="#0000ff"/>
<text x="431.8" y="196.3" class="lg">FaSSIF-V1</text>
<path d="M404.5 214.6H421.7" stroke="#ff0000" stroke-width="1.5"/>
<rect x="409.8" y="211.4" width="6.8" height="6.6" fill="#ff0000"/>
<text x="431.8" y="218.7" class="lg">FeSSIF-V1</text>
<path d="M404.5 233.0H407.9M420 233.0H422" stroke="#0000ff" stroke-width="1.6"/>
<circle cx="413.3" cy="233.0" r="3.0" fill="#fff" stroke="#0000ff" stroke-width="1.8"/>
<path d="M412.2 233.0H415.8" stroke="#0000ff" stroke-width="1.4"/>
<text x="431.8" y="237.1" class="lg">FaSSIF-V2</text>
<path d="M404.5 255.2H407.9M420 255.2H422" stroke="#ff0000" stroke-width="1.6"/>
<rect x="410" y="252.0" width="6.4" height="6.4" fill="#fff" stroke="#ff0000" stroke-width="1.7"/>
<path d="M412.2 255.2H415.8" stroke="#ff0000" stroke-width="1.4"/>
<text x="431.8" y="259.5" class="lg">FeSSIF-V2</text>
</svg>
</body></html>
